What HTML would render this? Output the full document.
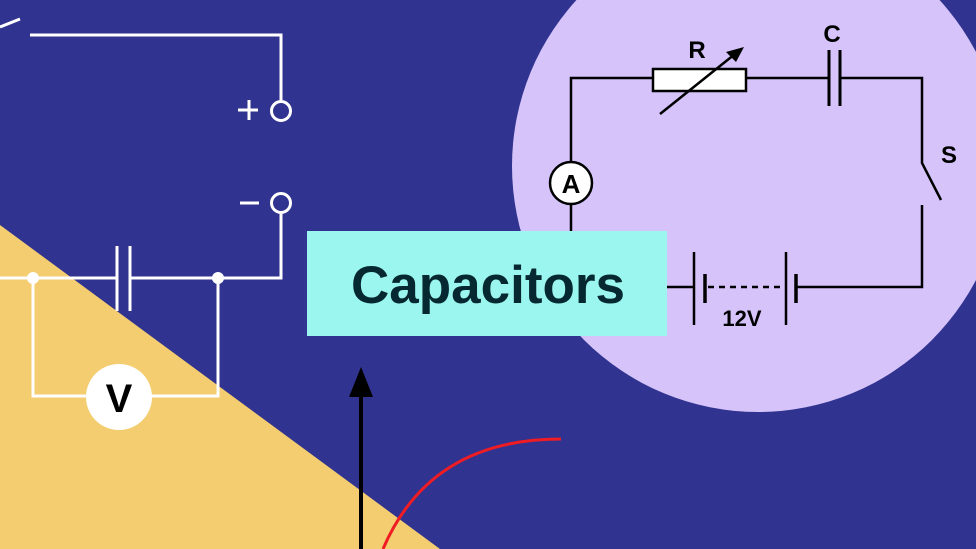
<!DOCTYPE html>
<html><head><meta charset="utf-8"><style>
html,body{margin:0;padding:0;width:976px;height:549px;overflow:hidden;background:#2f318e}
svg{display:block}
text{font-family:"Liberation Sans",sans-serif}
</style></head><body>
<svg width="976" height="549" viewBox="0 0 976 549" xmlns="http://www.w3.org/2000/svg">
<rect width="976" height="549" fill="#30338f"/>
<circle cx="758" cy="166" r="246" fill="#d5c3fa"/>
<polygon points="0,225 440,549 0,549" fill="#f3cd70"/>
<g stroke="#fff" stroke-width="3" fill="none">
<line x1="0" y1="27" x2="20" y2="19"/>
<polyline points="30,35 281,35 281,101"/>
<circle cx="281" cy="111" r="9.5"/>
<circle cx="281" cy="203" r="9.5"/>
<polyline points="281,213 281,278 130,278"/>
<line x1="0" y1="278" x2="117" y2="278"/>
<line x1="117" y1="246" x2="117" y2="311"/>
<line x1="130" y1="246" x2="130" y2="311"/>
<polyline points="33,278 33,396 218,396 218,278"/>
<line x1="238" y1="110" x2="258" y2="110"/><line x1="249" y1="100" x2="249" y2="120"/>
<line x1="240" y1="203" x2="259" y2="203"/>
</g>
<circle cx="33" cy="278" r="6" fill="#fff"/>
<circle cx="218" cy="278" r="6" fill="#fff"/>
<circle cx="119" cy="397" r="33" fill="#fff"/>
<text x="119" y="412" font-size="40" font-weight="bold" text-anchor="middle" fill="#000">V</text>
<g stroke="#000" stroke-width="2.5" fill="none">
<polyline points="571,162 571,78 653,78"/>
<line x1="746" y1="78" x2="829" y2="78"/>
<polyline points="840,78 922,78 922,163 941,200"/>
<polyline points="922,205 922,287 797,287"/>
<rect x="653" y="69" width="93" height="22" fill="#fff"/>
<line x1="660" y1="114" x2="735" y2="54"/>
<line x1="829" y1="50" x2="829" y2="106" stroke-width="3"/>
<line x1="840" y1="50" x2="840" y2="106" stroke-width="3"/>
<line x1="571" y1="204" x2="571" y2="232"/>
<line x1="667" y1="287" x2="694" y2="287"/>
<line x1="694" y1="252" x2="694" y2="325"/>
<line x1="705" y1="274" x2="705" y2="303" stroke-width="3.5"/>
<line x1="786" y1="252" x2="786" y2="325"/>
<line x1="796" y1="274" x2="796" y2="303" stroke-width="3.5"/>
<line x1="708" y1="287" x2="784" y2="287" stroke-dasharray="6,5"/>
</g>
<polygon points="744,47 726,52 736,62" fill="#000"/>
<circle cx="571" cy="183" r="21" fill="#fff" stroke="#000" stroke-width="2.5"/>
<text x="571" y="193" font-size="26" font-weight="bold" text-anchor="middle" fill="#000">A</text>
<text x="697" y="58" font-size="24" font-weight="bold" text-anchor="middle" fill="#000">R</text>
<text x="832" y="42" font-size="24" font-weight="bold" text-anchor="middle" fill="#000">C</text>
<text x="949" y="163" font-size="24" font-weight="bold" text-anchor="middle" fill="#000">S</text>
<text x="742" y="326" font-size="22" font-weight="bold" text-anchor="middle" fill="#000">12V</text>
<rect x="307" y="231" width="360" height="105" fill="#9bf6ef"/>
<text x="488" y="303" font-size="53" font-weight="bold" text-anchor="middle" fill="#062830">Capacitors</text>
<line x1="361" y1="549" x2="361" y2="390" stroke="#000" stroke-width="4"/>
<polygon points="361,367 349,397 373,397" fill="#000"/>
<path d="M383 549 Q430 439 561 439" stroke="#f01c24" stroke-width="3" fill="none"/>
</svg>
</body></html>
